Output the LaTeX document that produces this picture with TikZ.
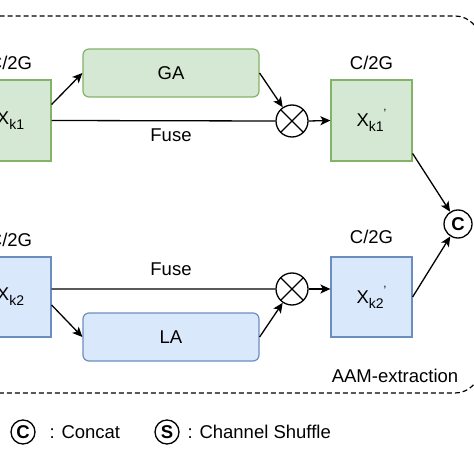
\documentclass[tikz,border=0pt]{standalone}
\usepackage{fontspec}
\setmainfont{Liberation Sans}
\usetikzlibrary{arrows.meta}

\definecolor{gfill}{HTML}{D5E8D4}
\definecolor{gline}{HTML}{82B366}
\definecolor{bfill}{HTML}{DAE8FC}
\definecolor{bline}{HTML}{6C8EBF}

\newcommand{\feat}[2]{X\raisebox{-5bp}{\fontsize{14bp}{16bp}\selectfont k#1}\raisebox{9bp}{\fontsize{12bp}{14bp}\selectfont #2}}

\begin{document}
\begin{tikzpicture}[x=1bp, y=-1bp,
    every node/.style ={font=\fontsize{18.5bp}{22bp}\selectfont},
    greenbox/.style ={draw=gline, fill=gfill, line width=1.2bp, minimum width=81bp, minimum height=81bp},
    bluebox/.style ={draw=bline, fill=bfill, line width=1.2bp, minimum width=81bp, minimum height=80bp},
    attention/.style ={rounded corners=6bp, minimum width=176bp, minimum height=48bp},
    multiply/.style ={circle, draw, line width=1.3bp, minimum size=32bp, inner sep=0pt,
        path picture={\draw[line width=1.3bp] (path picture bounding box.north west) -- (path picture bounding box.south east)
            (path picture bounding box.north east) -- (path picture bounding box.south west);}},
    operation/.style ={circle, draw, line width=1.3bp, inner sep=0pt, font=\fontsize{18.5bp}{22bp}\selectfont\bfseries},
    connect/.style ={line width=1.3bp},
    flow/.style ={line width=1.3bp, -{Stealth[length=10bp, width=9bp, inset=2.5bp]}}]
   \useasboundingbox (0,0) rectangle (474,474);
   \clip (0,0) rectangle (474,474);

   % dashed frame of the module
   \draw[line width=1.2bp, dash pattern=on 5bp off 3bp, rounded corners=25bp] (-60,16) rectangle (480,393);

   % upper branch
   \node[greenbox] (Xa) at (10.5,120.5) {\feat{1}{}};
   \node (ta) at (10.5,63) {C/2G};
   \node[greenbox, attention] (GA) at (171,73) {GA};
   \node[multiply] (Ma) at (292,121) {};
   \node (fa) at (171,135) {Fuse};
   \node[greenbox] (Ya) at (371.5,120.5) {\feat{1}{'}};
   \node (tb) at (371.5,63) {C/2G};

   % lower branch
   \node[bluebox] (Xb) at (10.5,297) {\feat{2}{}};
   \node (tc) at (10.5,240) {C/2G};
   \node[bluebox, attention] (LA) at (171,337) {LA};
   \node[multiply] (Mb) at (292,289) {};
   \node (fb) at (171,269) {Fuse};
   \node[bluebox] (Yb) at (371.5,297) {\feat{2}{'}};
   \node (td) at (371.5,237) {C/2G};

   \node[operation, minimum size=28bp] (Cat) at (458,224) {C};
   \node (name) at (395,376) {AAM-extraction};

   \draw[flow] ([yshift=16bp]Xa.east) to (GA.west);
   \draw[connect] (Xa.east) to (Ma.west);
   \draw[flow] (GA.east) to (Ma);
   \draw[flow] (Ma.east) to (Ya.west);
   \draw[flow] ([yshift=-33bp]Ya.east) to (Cat);

   \draw[connect] ([yshift=8bp]Xb.east) to (Mb.west);
   \draw[flow] ([yshift=-8bp]Xb.east) to (LA.west);
   \draw[flow] (LA.east) to (Mb);
   \draw[flow] (Mb.east) to (Mb.east -| Yb.west);
   \draw[flow] (Yb.east) to (Cat);

   % legend
   \node[operation, minimum size=24bp] (lc) at (23,432) {C};
   \node[anchor=west] (lct) at (46,432) {: Concat};
   \node[operation, minimum size=24bp] (ls) at (167,432) {S};
   \node[anchor=west] (lst) at (184,432) {: Channel Shuffle};
 \end{tikzpicture}
\end{document}
